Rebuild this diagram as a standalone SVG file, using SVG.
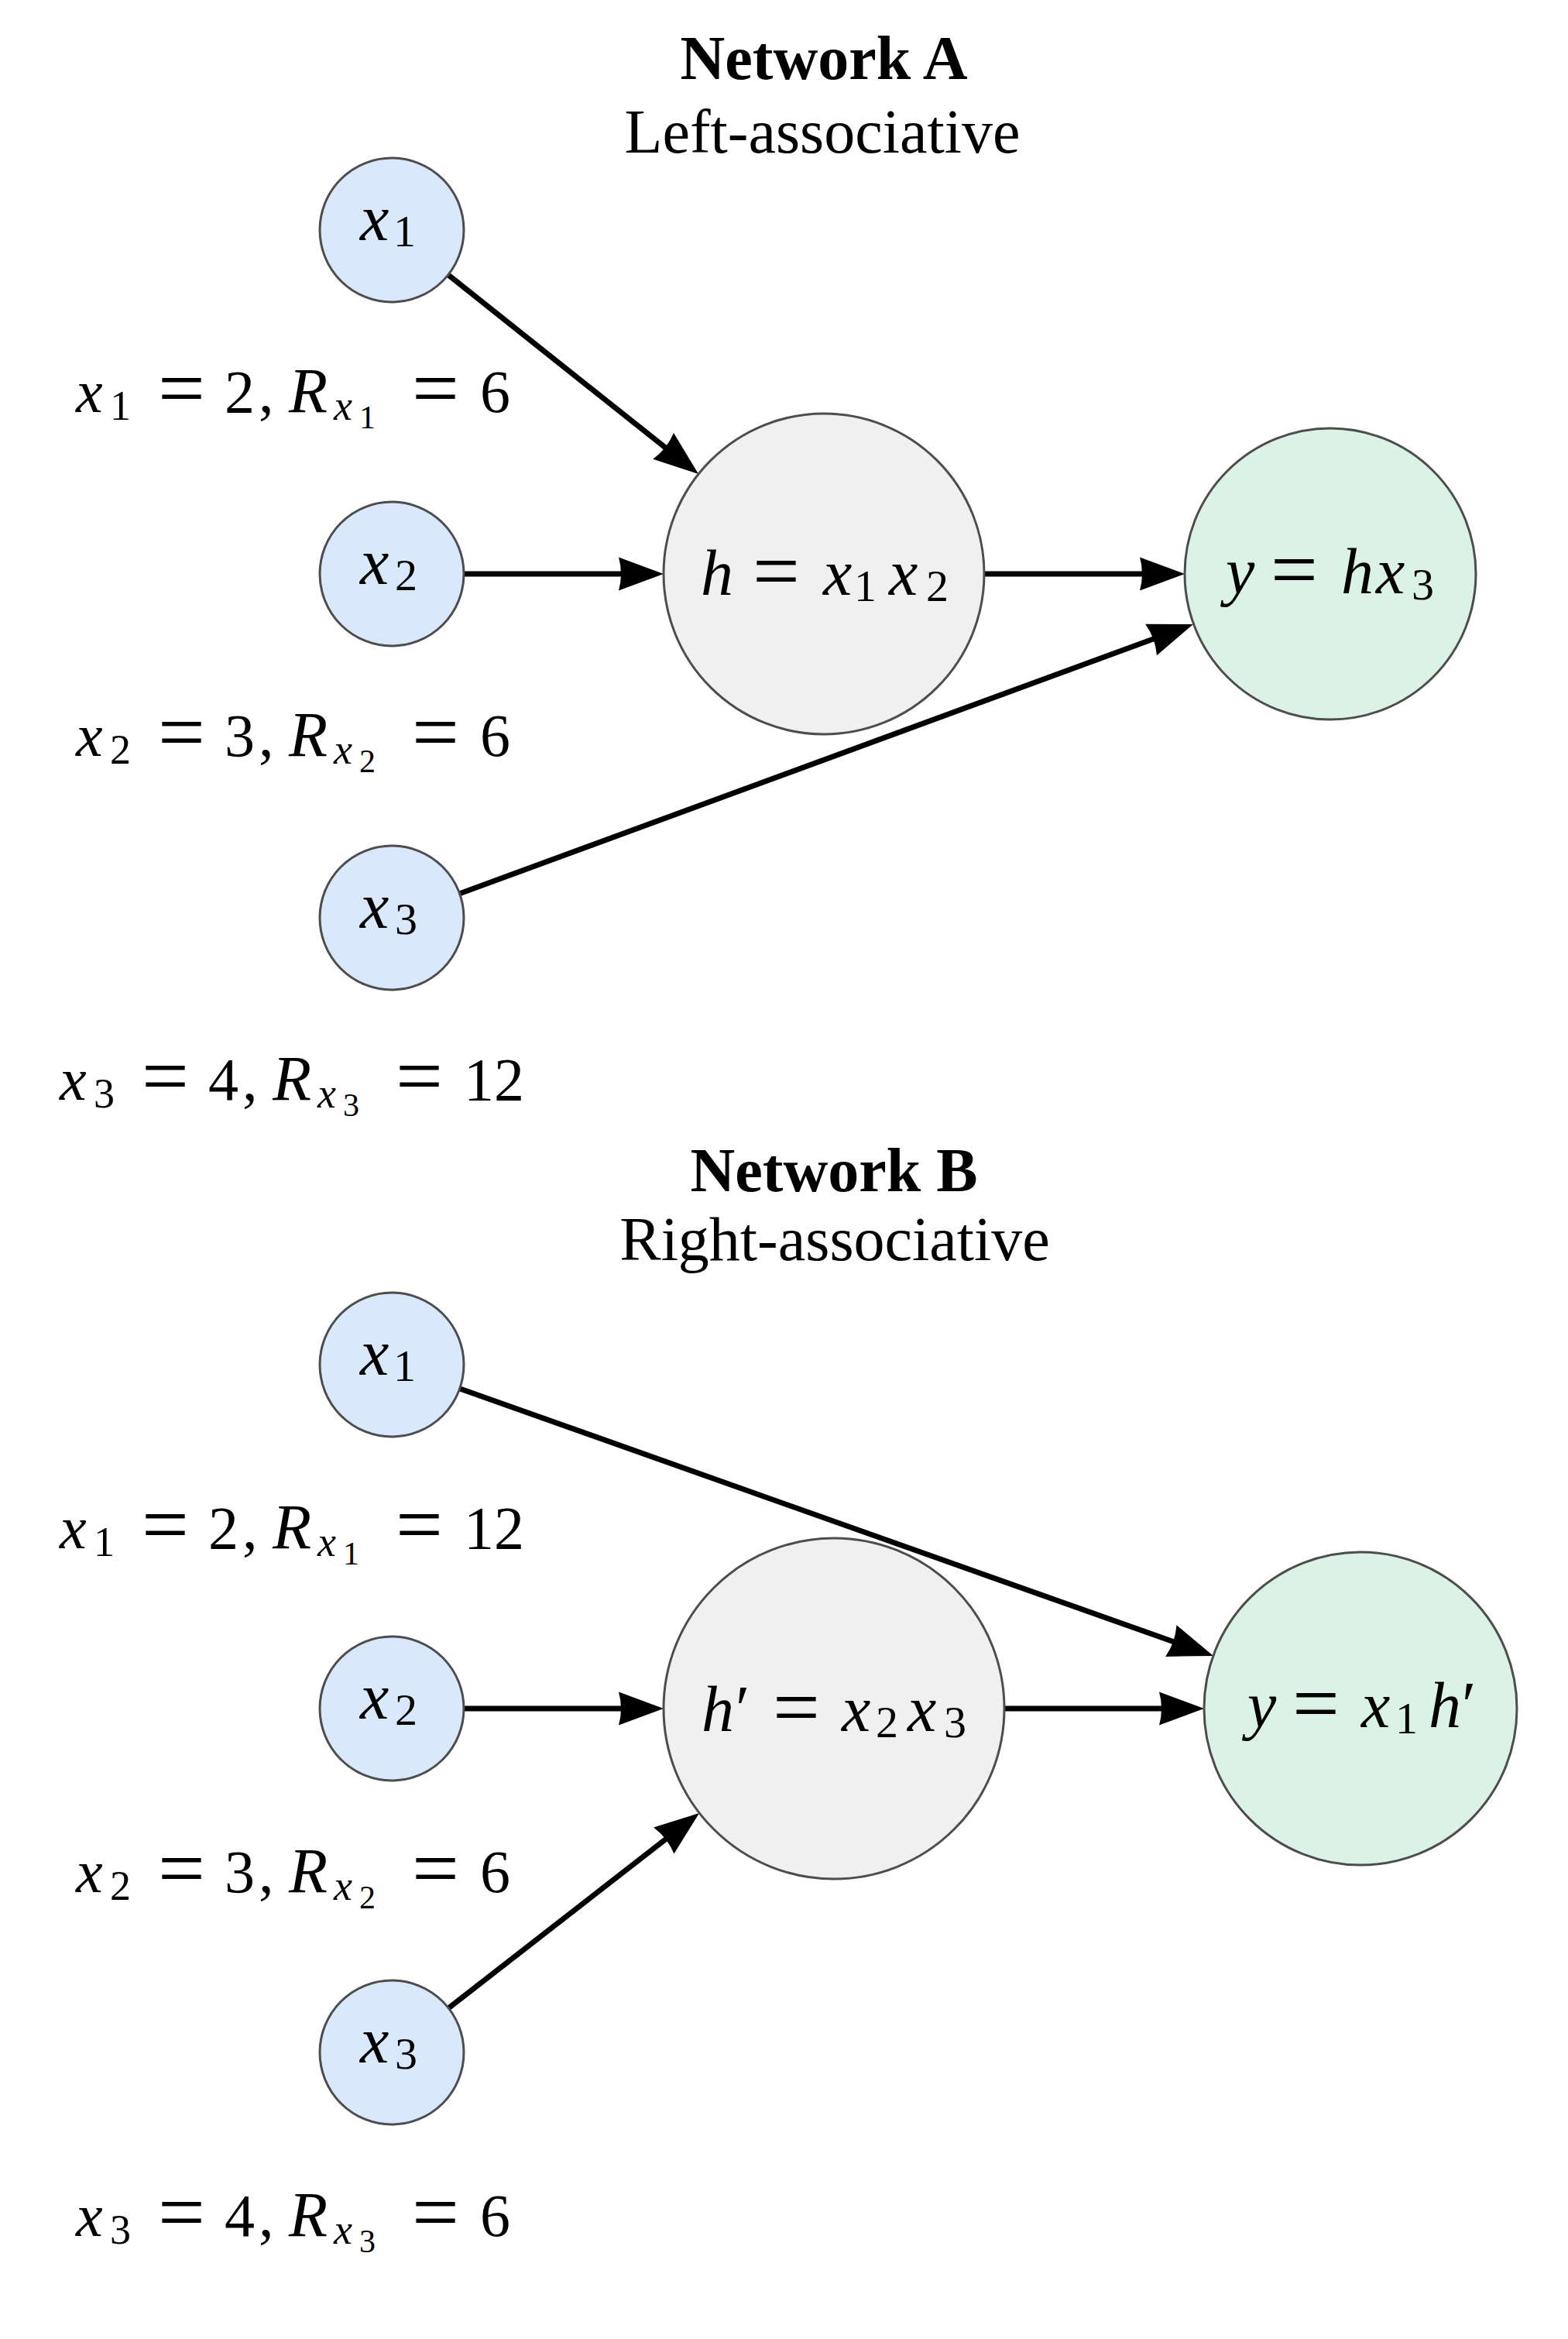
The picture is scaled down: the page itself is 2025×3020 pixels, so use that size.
<svg xmlns="http://www.w3.org/2000/svg" width="2025" height="3020" viewBox="0 0 2025 3020">
<style>
text { font-family: "Liberation Serif", "Times New Roman", serif; fill: #000; }
.title { font-size: 80px; font-weight: bold; text-anchor: middle; }
.subt { font-size: 80px; text-anchor: middle; }
.m { font-size: 78px; }
.nm { font-size: 84px; }
.it { font-style: italic; }
.eq { font-size: 108px; }
.rr { font-size: 82px; }
.s1 { font-size: 54px; }
.s2 { font-size: 54px; }
.s3 { font-size: 42px; }
.ns { font-size: 58px; }
.xn { fill: #dae8fc; stroke: #4d4d4d; stroke-width: 3; }
.hn { fill: #f0f0f0; stroke: #4d4d4d; stroke-width: 3; }
.yn { fill: #dbf3e6; stroke: #4d4d4d; stroke-width: 3; }
.e { stroke: #000; stroke-width: 7; fill: none; marker-end: url(#arr); }
</style>
<defs>
<marker id="arr" markerUnits="userSpaceOnUse" markerWidth="60" markerHeight="50" refX="0" refY="0" orient="auto" overflow="visible">
<path d="M44,0 L-14,-21.5 Q-8,0 -14,21.5 Z" fill="#000"/>
</marker>
</defs>
<rect width="2025" height="3020" fill="#fff"/>

<g id="titles">
<text class="title" x="1064" y="102">Network A</text>
<text class="subt" x="1062" y="197">Left-associative</text>
<text class="title" x="1077" y="1538">Network B</text>
<text class="subt" x="1078" y="1627">Right-associative</text>
</g>

<g id="connectors">
<line class="e" x1="579" y1="355" x2="867.6" y2="584.6"/>
<line class="e" x1="599" y1="741" x2="813" y2="741"/>
<line class="e" x1="1271" y1="741" x2="1486" y2="741"/>
<line class="e" x1="593" y1="1154" x2="1499.7" y2="821.2"/>
<line class="e" x1="594" y1="1793" x2="1525.5" y2="2123.3"/>
<line class="e" x1="599" y1="2206" x2="813" y2="2206"/>
<line class="e" x1="1297" y1="2206" x2="1511" y2="2206"/>
<line class="e" x1="579" y1="2593" x2="868.3" y2="2368"/>
</g>

<g id="A_x1">
<circle class="xn" cx="506" cy="297" r="93"/>
<text class="nm" y="310"><tspan class="it" x="465">x</tspan><tspan class="ns" x="508" y="318">1</tspan></text>
</g>
<g id="A_x2">
<circle class="xn" cx="506" cy="741" r="93"/>
<text class="nm" y="754"><tspan class="it" x="465">x</tspan><tspan class="ns" x="510" y="762">2</tspan></text>
</g>
<g id="A_x3">
<circle class="xn" cx="506" cy="1185" r="93"/>
<text class="nm" y="1198"><tspan class="it" x="465">x</tspan><tspan class="ns" x="510" y="1206">3</tspan></text>
</g>
<g id="A_h">
<circle class="hn" cx="1064" cy="741" r="207"/>
<text class="nm" y="768"><tspan class="it" x="905">h</tspan><tspan class="eq" x="972" y="773">=</tspan><tspan class="it" x="1063" y="768">x</tspan><tspan class="ns" x="1103" y="776">1</tspan><tspan class="it" x="1148" y="768">x</tspan><tspan class="ns" x="1196" y="776">2</tspan></text>
</g>
<g id="A_y">
<circle class="yn" cx="1718" cy="741" r="188"/>
<text class="nm" y="766"><tspan class="it" x="1583">y</tspan><tspan class="eq" x="1641" y="771">=</tspan><tspan class="it" x="1732" y="766">h</tspan><tspan class="it" x="1777">x</tspan><tspan class="ns" x="1823" y="774">3</tspan></text>
</g>

<g id="B_x1">
<circle class="xn" cx="506" cy="1762" r="93"/>
<text class="nm" y="1775"><tspan class="it" x="465">x</tspan><tspan class="ns" x="508" y="1783">1</tspan></text>
</g>
<g id="B_x2">
<circle class="xn" cx="506" cy="2206" r="93"/>
<text class="nm" y="2219"><tspan class="it" x="465">x</tspan><tspan class="ns" x="510" y="2227">2</tspan></text>
</g>
<g id="B_x3">
<circle class="xn" cx="506" cy="2650" r="93"/>
<text class="nm" y="2663"><tspan class="it" x="465">x</tspan><tspan class="ns" x="510" y="2671">3</tspan></text>
</g>
<g id="B_h">
<circle class="hn" cx="1077" cy="2206" r="220"/>
<text class="nm" y="2235"><tspan class="it" x="906">h</tspan><tspan x="950">′</tspan><tspan class="eq" x="998" y="2240">=</tspan><tspan class="it" x="1087" y="2235">x</tspan><tspan class="ns" x="1131" y="2243">2</tspan><tspan class="it" x="1172" y="2235">x</tspan><tspan class="ns" x="1219" y="2243">3</tspan></text>
</g>
<g id="B_y">
<circle class="yn" cx="1757" cy="2206" r="202"/>
<text class="nm" y="2230"><tspan class="it" x="1611">y</tspan><tspan class="eq" x="1669" y="2235">=</tspan><tspan class="it" x="1758" y="2230">x</tspan><tspan class="ns" x="1802" y="2238">1</tspan><tspan class="it" x="1845" y="2230">h</tspan><tspan x="1888">′</tspan></text>
</g>

<g id="labels">
<text class="m" y="532"><tspan class="it" x="98">x</tspan><tspan class="s1" x="142" y="542">1</tspan><tspan class="eq" x="204" y="537">=</tspan><tspan x="290" y="532">2</tspan><tspan x="334">,</tspan><tspan class="it rr" x="373">R</tspan><tspan class="it s2" x="431" y="542">x</tspan><tspan class="s3" x="464" y="553">1</tspan><tspan class="eq" x="532" y="537">=</tspan><tspan x="620" y="532">6</tspan></text>
<text class="m" y="976"><tspan class="it" x="98">x</tspan><tspan class="s1" x="142" y="986">2</tspan><tspan class="eq" x="204" y="981">=</tspan><tspan x="290" y="976">3</tspan><tspan x="334">,</tspan><tspan class="it rr" x="373">R</tspan><tspan class="it s2" x="431" y="986">x</tspan><tspan class="s3" x="464" y="997">2</tspan><tspan class="eq" x="532" y="981">=</tspan><tspan x="620" y="976">6</tspan></text>
<text class="m" y="1420"><tspan class="it" x="77">x</tspan><tspan class="s1" x="121" y="1430">3</tspan><tspan class="eq" x="183" y="1425">=</tspan><tspan x="269" y="1420">4</tspan><tspan x="313">,</tspan><tspan class="it rr" x="352">R</tspan><tspan class="it s2" x="410" y="1430">x</tspan><tspan class="s3" x="443" y="1441">3</tspan><tspan class="eq" x="511" y="1425">=</tspan><tspan x="599" y="1420">12</tspan></text>
<text class="m" y="1999"><tspan class="it" x="77">x</tspan><tspan class="s1" x="121" y="2009">1</tspan><tspan class="eq" x="183" y="2004">=</tspan><tspan x="269" y="1999">2</tspan><tspan x="313">,</tspan><tspan class="it rr" x="352">R</tspan><tspan class="it s2" x="410" y="2009">x</tspan><tspan class="s3" x="443" y="2020">1</tspan><tspan class="eq" x="511" y="2004">=</tspan><tspan x="599" y="1999">12</tspan></text>
<text class="m" y="2443"><tspan class="it" x="98">x</tspan><tspan class="s1" x="142" y="2453">2</tspan><tspan class="eq" x="204" y="2448">=</tspan><tspan x="290" y="2443">3</tspan><tspan x="334">,</tspan><tspan class="it rr" x="373">R</tspan><tspan class="it s2" x="431" y="2453">x</tspan><tspan class="s3" x="464" y="2464">2</tspan><tspan class="eq" x="532" y="2448">=</tspan><tspan x="620" y="2443">6</tspan></text>
<text class="m" y="2887"><tspan class="it" x="98">x</tspan><tspan class="s1" x="142" y="2897">3</tspan><tspan class="eq" x="204" y="2892">=</tspan><tspan x="290" y="2887">4</tspan><tspan x="334">,</tspan><tspan class="it rr" x="373">R</tspan><tspan class="it s2" x="431" y="2897">x</tspan><tspan class="s3" x="464" y="2908">3</tspan><tspan class="eq" x="532" y="2892">=</tspan><tspan x="620" y="2887">6</tspan></text>
</g>
</svg>
